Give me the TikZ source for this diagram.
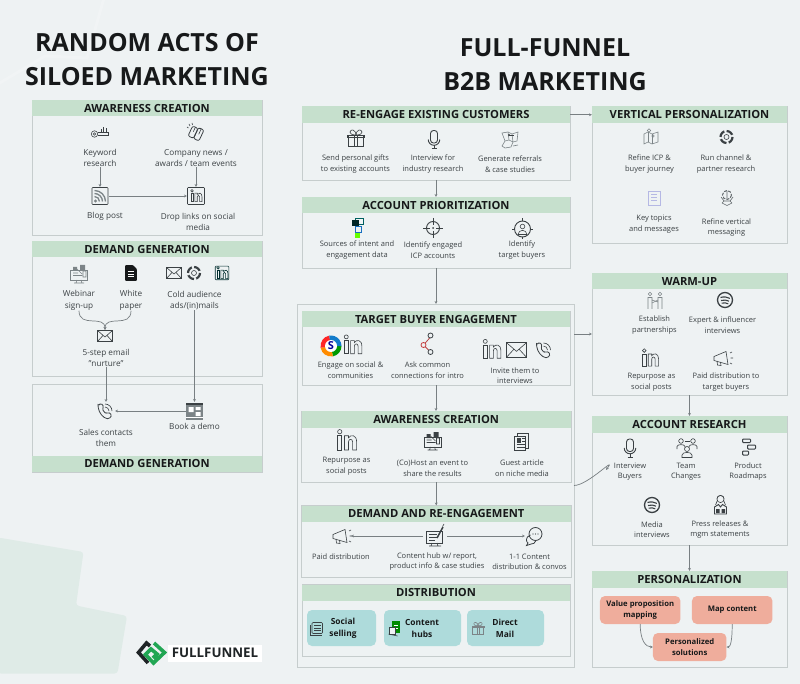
\documentclass[tikz,border=0pt]{standalone}
\usepackage{fontspec}
\setmainfont{Open Sans}
\usetikzlibrary{arrows.meta,calc}
\definecolor{bggray}{HTML}{EEF2F3}
\definecolor{softshape}{HTML}{DFEBE7}
\definecolor{softband}{HTML}{F1F4F5}
\definecolor{headgreen}{HTML}{C6E0CD}
\definecolor{rim}{HTML}{C6CDCD}
\definecolor{ink}{HTML}{3B4144}
\definecolor{blackink}{HTML}{17191A}
\definecolor{flowgray}{HTML}{787F82}
\definecolor{pillteal}{HTML}{AEDBDB}
\definecolor{pillred}{HTML}{EFAD9C}
\definecolor{logogreen}{HTML}{21A653}
\definecolor{logodark}{HTML}{1F2426}
\definecolor{icongray}{HTML}{7C8487}
\tikzset{
    bigtitle/.style={font=\fontsize{25}{34.5}\bfseries\selectfont,text=blackink,align=center},
    panel/.style={draw=rim,line width=.8pt,inner sep=0pt,outer sep=0pt,anchor=north west},
    head/.style={fill=headgreen,text=blackink,inner sep=0pt,outer sep=0pt,minimum height=16.5pt,font=\fontsize{11.2}{13}\bfseries\selectfont},
    lbl/.style={text=ink,align=center,inner sep=0pt,yshift=-.7pt,font=\fontsize{7.5}{10.5}\selectfont},
    lblbig/.style={text=ink,align=center,inner sep=0pt,yshift=-.6pt,font=\fontsize{8.2}{11.5}\selectfont},
    spot/.style={inner sep=0pt,outer sep=0pt,minimum size=18pt},
    pill/.style={rounded corners=5pt,inner sep=0pt,outer sep=0pt,text=blackink,align=center,font=\fontsize{8.4}{12}\bfseries\selectfont},
    redpill/.style={pill,fill=pillred,minimum height=28pt,font=\fontsize{7.7}{11}\bfseries\selectfont},
    flow/.style={draw=flowgray,line width=.7pt,-{Stealth[length=3pt,width=2.8pt]}},
    keyicon/.pic={
        \draw (-5.5,2) circle (3.2) (-5.5,2) circle (1.3);
        \draw (-2.4,.4)--(8,.4)--(8,3)--(-2.4,3);
        \draw (1,.4)--(1,-2.5) (3.5,.4)--(3.5,-5) (6,.4)--(6,-3.5);
    },
    clapicon/.pic={
        \draw[line width=.8pt,rounded corners=2pt,rotate=-25] (-6,-5) rectangle (0,6);
        \draw[line width=.8pt,rounded corners=2pt,rotate=-25] (0,-6) rectangle (6,6);
        \draw[rotate=-25] (-3,-5)--(-3,0) (3,-6)--(3,0);
        \draw (-7,-9)--(-6,-7) (-4,-10)--(-3.5,-8) (-9,-6)--(-7.5,-5);
    },
    rssicon/.pic={
        \draw[rounded corners=.8pt] (-8,-8.5) rectangle (8,8.5);
        \fill[icongray] (-4.5,5) circle (1.6);
        \foreach \r in {5,8,11}{\draw[icongray,line width=1.3pt] (-5.5,-\r+5.5) arc[start angle=-90,end angle=0,radius=\r];}
    },
    linicon/.pic={
        \draw (-5,-6.5) circle (1.6);
        \draw (-6.5,-3.5) rectangle (-3.5,7);
        \draw (-1.5,-3.5)--(1.5,-3.5)--(1.5,-2) .. controls (3,-4.5) and (7.5,-4.5) .. (7.5,1)--(7.5,7)--(4.5,7)--(4.5,1) .. controls (4.5,-1.5) and (1.5,-1.5) .. (1.5,1)--(1.5,7)--(-1.5,7)--cycle;
    },
    linbox/.pic={
        \draw[rounded corners=.8pt] (-8.5,-8.5) rectangle (8.5,8.5);
        \pic[scale=.8] at (0,0) {linicon};
    },
    mailicon/.pic={
        \draw (-7.5,-5.5) rectangle (7.5,5.5);
        \draw (-7.5,-5.5)--(0,1)--(7.5,-5.5) (-7.5,5.5)--(-2,-.5) (7.5,5.5)--(2,-.5);
    },
    phoneicon/.pic={
        \draw[line width=.8pt,rounded corners=1.5pt] (-8,-5)--(-5,-8)--(-2,-4)--(-4,-2)--(0,3)--(2,1)--(6,4)--(3,8) .. controls (-3,7) and (-7,2) .. cycle;
        \draw (-1,-7) arc[start angle=-90,end angle=0,radius=7];
        \draw (-1,-4) arc[start angle=-90,end angle=0,radius=4];
    },
    globeicon/.pic={
        \draw[line width=2.2pt,dash pattern=on 7pt off 2.4pt] (0,0) circle (6);
        \draw (0,0) circle (2.5);
    },
    papericon/.pic={
        \fill[rounded corners=.8pt] (-5.5,-7.5)--(2,-7.5)--(5.5,-4)--(5.5,7.5)--(-5.5,7.5)--cycle;
        \draw[white,line width=.8pt] (-3,-1.5)--(3,-1.5) (-3,1)--(3,1) (-3,3.5)--(3,3.5);
    },
    monitoricon/.pic={
        \draw (-8.5,-4) rectangle (8.5,6);
        \draw (-2,6)--(-3,9) (2,6)--(3,9) (-5,9)--(5,9);
        \fill (-6,-7) rectangle (-2,-3) (1,-9) rectangle (6,-4);
        \draw (-6,-1)--(-1,-1) (-6,1.5)--(3,1.5) (-2,-5)--(3,0) (4,-3) rectangle (7,3);
    },
    demoicon/.pic={
        \fill[icongray] (-8.5,-8.5) rectangle (8.5,8.5);
        \fill[ink] (-8.5,-8.5) rectangle (8.5,-6);
        \fill[white] (-6,-4) rectangle (-1,1) (1,-4) rectangle (6,-1) (1,1) rectangle (6,5);
        \draw[white] (-8.5,6)--(8.5,6);
    },
    gifticon/.pic={
        \draw (-7.5,-3) rectangle (7.5,8.5);
        \draw (-8.5,-3) rectangle (8.5,-.5);
        \draw (-1.5,-3)--(-1.5,8.5) (1.5,-3)--(1.5,8.5);
        \draw (0,-3) .. controls (-9,-3) and (-6,-9) .. (-3,-8) .. controls (-1,-7.5) and (0,-5) .. (0,-3);
        \draw (0,-3) .. controls (9,-3) and (6,-9) .. (3,-8) .. controls (1,-7.5) and (0,-5) .. (0,-3);
    },
    micicon/.pic={
        \draw[line width=.9pt,rounded corners=3pt] (-3.5,-9) rectangle (3.5,3.5);
        \draw[line width=.9pt] (-5.8,0) arc[start angle=180,end angle=0,radius=5.8];
        \draw[line width=.9pt] (0,5.8)--(0,9) (-2.5,9)--(2.5,9);
    },
    refericon/.pic={
        \draw[icongray] (-8,-7)--(-2,-8)--(2,-6)--(8,-8)--(7,1)--(3,2)--(1,7)--(-5,8)--(-8,6)--(-5,1)--cycle;
        \draw[icongray] (-2,-8)--(-1,0)--(3,2) (-5,1)--(-1,0) (2,-6)--(3,2);
        \fill[ink] (-1,-5) circle (1.2);
        \draw[ink] (-1,-5)--(4,-5);
        \draw[icongray] (3,6)--(8,5);
    },
    sourceicon/.pic={
        \draw[color=black!25!teal,fill=softband] (-2,-10) rectangle (6,-4);
        \fill[black!70!teal] (-5,-8) rectangle (2,-2);
        \draw[color=cyan!50!blue] (-2,-2) rectangle (4,4);
        \fill[green!60!yellow] (-2.5,5) rectangle (3,10);
    },
    targeticon/.pic={
        \draw[line width=.9pt] (0,0) circle (6.5);
        \draw[line width=.9pt] (0,-10)--(0,-3) (0,3)--(0,10) (-10,0)--(-3,0) (3,0)--(10,0);
        \fill (0,0) circle (1);
    },
    buyericon/.pic={
        \draw[line width=.9pt] (0,0) circle (8);
        \draw[line width=.9pt] (0,-10.5)--(0,-8) (0,8)--(0,10.5) (-10.5,0)--(-8,0) (8,0)--(10.5,0);
        \draw (0,-2.5) circle (2.3);
        \draw (-4.5,5.5) .. controls (-4,0) and (4,0) .. (4.5,5.5)--cycle;
    },
    slackicon/.pic={
        \fill[green!60!black] (0,0)--(10.5,0) arc[start angle=0,end angle=80,radius=10.5]--cycle;
        \fill[orange!90!yellow] (0,0)--(1.8,10.3) arc[start angle=80,end angle=170,radius=10.5]--cycle;
        \fill[red!80!pink] (0,0)--(-10.3,1.8) arc[start angle=170,end angle=260,radius=10.5]--cycle;
        \fill[cyan!60!blue] (0,0)--(-1.8,-10.3) arc[start angle=260,end angle=360,radius=10.5]--cycle;
        \fill[white] (0,0) circle (6);
        \node[text=blue!60!black,inner sep=0pt,font=\fontsize{11}{12}\bfseries\selectfont] (slackletter) at (0,0) {S};
    },
    shareicon/.pic={
        \draw[red!45!gray,line width=.8pt] (3,-7)--(-4,1)--(3,8);
        \draw[ink,fill=bggray,line width=.8pt] (3,-8.5) circle (2.5) (3,8) circle (2.5);
        \draw[red!55!gray,fill=bggray,line width=.8pt] (-4,1) circle (2.5);
    },
    guesticon/.pic={
        \draw (-4,-8) rectangle (7,7);
        \draw[fill=bggray] (-7,-5) rectangle (4,9);
        \fill (-5,-3) rectangle (-.5,1.5);
        \draw (.8,-2.5)--(3,-2.5) (.8,0)--(3,0) (-5,3.5)--(3,3.5) (-5,6)--(3,6);
    },
    megaicon/.pic={
        \draw (-9,-1.5)--(3,-6.5)--(5,6.5)--(-9,2.5)--cycle;
        \draw (-6,3)--(-5.5,7)--(-2,7.5)--(-2.5,4);
        \draw (7,-5)--(9,-6) (7.5,0)--(10,0) (7,5)--(9,6);
    },
    laptopicon/.pic={
        \draw[line width=.8pt] (-9,-5) rectangle (7,7);
        \draw (-3,7)--(-4,10) (2,7)--(3,10) (-6,10)--(6,10);
        \draw (-6,-2)--(2,-2) (-6,1)--(3,1) (-6,4)--(0,4);
        \draw[line width=1.5pt] (2,2)--(8,-9);
        \draw (7.5,-9.5)--(9,-12);
    },
    bubbleicon/.pic={
        \draw[line width=.8pt] (1.5,-2) circle (6.5);
        \draw[line width=.8pt] (-3.5,-1) .. controls (-9,1) and (-8,6) .. (-6,7)--(-7.5,9.5)--(-3,8) .. controls (-1,8.5) and (1,7) .. (2,4.5);
        \fill (-1,-2) circle (.7) (1.5,-2) circle (.7) (4,-2) circle (.7);
    },
    listbubble/.pic={
        \draw[rounded corners=1pt] (-4.5,-6) rectangle (6,5);
        \draw (-6,-3.5)--(-6,7)--(5,7);
        \draw (-2.5,-3)--(4,-3) (-2.5,-.5)--(4,-.5) (-2.5,2)--(4,2);
    },
    hubicon/.pic={
        \fill[green!55!black] (-3,-7) rectangle (5,5);
        \draw[white] (-1,-3)--(3,-3) (-1,0)--(3,0);
        \draw[fill=bggray] (-5,-1) rectangle (1,6);
        \draw (-6,6)--(3,8);
    },
    mapicon/.pic={
        \draw[icongray] (-7,-3)--(-3,-5)--(1,-3)--(7,-5)--(7,5)--(1,7)--(-3,5)--(-7,7)--cycle;
        \draw[icongray] (-3,-5)--(-3,5) (1,-3)--(1,7);
        \draw[icongray] (-2,-6.5) circle (1.7) (2,-1) circle (1.2);
    },
    docicon/.pic={
        \draw[color=blue!20!bggray!85!gray,line width=.8pt] (-6,-7) rectangle (6,7);
        \draw[color=blue!20!bggray!85!gray] (-3,-3.5)--(3,-3.5) (-3,-.5)--(3,-.5) (-3,2.5)--(3,2.5);
    },
    ribbonicon/.pic={
        \draw[line width=1pt,dash pattern=on 3pt off 1.4pt] (0,-3) circle (4.5);
        \draw (-6,-1)--(-3,3)--(3,3)--(6,-1) (-5,5)--(0,7.5)--(5,5) (-3,3)--(-5,5) (3,3)--(5,5) (0,-7)--(0,1);
    },
    partnericon/.pic={
        \draw[icongray] (-5,-7) circle (1.8) (5,-7) circle (1.8);
        \draw[icongray] (-7,8)--(-7,-3.5)--(-3,-3.5)--(-3,-1)--(3,1)--(3,-3.5)--(7,-3.5)--(7,8) (-3,-1)--(-3,8) (3,1)--(3,8);
        \draw[icongray] (-3,2)--(3,-1);
    },
    spotifyicon/.pic={
        \draw[line width=1.3pt] (0,0) circle (7.5);
        \draw[line width=1.1pt] (-4.5,-2.5) .. controls (-1,-3.5) and (2,-3.2) .. (4.8,-1.6);
        \draw[line width=1.1pt] (-4,.5) .. controls (-1,-.3) and (2,0) .. (4,1.2);
        \draw[line width=1.1pt] (-3.3,3.2) .. controls (-1,2.5) and (1.5,2.8) .. (3.2,3.8);
    },
    teamicon/.pic={
        \draw (-6,-7) circle (2.3) (6,-7) circle (2.3) (0,1) circle (2.5);
        \draw (-10,1)--(-10,-1.5) .. controls (-10,-4) and (-2,-4) .. (-2,-1.5)--(-2,-.5);
        \draw (10,1)--(10,-1.5) .. controls (10,-4) and (2,-4) .. (2,-1.5)--(2,-.5);
        \draw (-5,9.5)--(-5,7) .. controls (-4.5,3.5) and (4.5,3.5) .. (5,7)--(5,9.5)--cycle;
        \draw (-2.5,-7)--(2.5,-7);
    },
    roadicon/.pic={
        \draw[line width=1pt,rounded corners=.8pt] (-6,-8) rectangle (2,-4.5) (-1,-2) rectangle (7,2) (-6,4) rectangle (0,8);
    },
    personicon/.pic={
        \draw (0,-6) circle (3.6);
        \draw (-3.5,-6.5) .. controls (-3,-10.5) and (3,-10.5) .. (3.5,-6.5);
        \draw (-3,-5) .. controls (-4.5,-1) .. (-5,0) (3,-5) .. controls (4.5,-1) .. (5,0);
        \draw[line width=.9pt] (-6,9)--(-6,2)--(-2,-.5)--(0,2)--(2,-.5)--(6,2)--(6,9)--cycle;
        \fill (-4.5,4) rectangle (-1,8) (1,4) rectangle (4.5,8);
    },
}
\newcommand{\panelbox}[5]{
    \node[panel,minimum width=#3pt,minimum height=#4pt] (#1) at (#2) {};
    \node[head,minimum width=#3pt,anchor=north] (#1head) at (#1.north) {#5};
}
\begin{document}
\begin{tikzpicture}[x=1pt,y=-1pt,line width=.6pt,color=ink]
    \useasboundingbox (0,0) rectangle (800,684);
    \fill[bggray] (0,0) rectangle (800,684);
    \fill[softshape,rounded corners=3pt] (-2,537.5)--(83.5,552)--(76,605.5)--(127,616)--(117.5,673.5)--(-2,673.5)--cycle;
    \draw[softband,line width=3pt] (104,-2)--(87,58)--(45,56)--(-2,84);

    % titles
    \node[bigtitle] (lefttitle) at (147,59.5) {RANDOM ACTS OF\\SILOED MARKETING};
    \node[bigtitle] (righttitle) at (545,64.5) {FULL-FUNNEL\\B2B MARKETING};

    % left column
    \panelbox{awareA}{32,100}{230}{135}{AWARENESS CREATION}
    \panelbox{demandA}{32,241}{230}{135}{DEMAND GENERATION}
    \node[panel,minimum width=230pt,minimum height=88pt] (salesbox) at (32,384) {};
    \node[head,minimum width=230pt,anchor=south] (salesboxhead) at (salesbox.south) {DEMAND GENERATION};

    \pic at (100,132) {keyicon};
    \pic at (196,133) {clapicon};
    \node[lblbig] (keywordtxt) at (100,157.5) {Keyword\\research};
    \node[lblbig] (companytxt) at (196,157.5) {Company news /\\awards / team events};
    \node[spot] (blogicon) at (100,196) {};
    \node[spot] (linkicon) at (196,196) {};
    \pic at (blogicon) {rssicon};
    \pic at (linkicon) {linbox};
    \node[lblbig] (blogtxt) at (105,215.5) {Blog post};
    \node[lblbig] (droptxt) at (198,221.5) {Drop links on social\\media};
    \draw[flow] (keywordtxt.south) -- (blogicon.north);
    \draw[flow] (companytxt.south) -- (linkicon.north);
    \draw[flow] (blogicon.east) -- (linkicon.west);

    \pic[color=icongray] at (79,274) {monitoricon};
    \pic[scale=1.05,color=blackink] at (131,273) {papericon};
    \pic at (174,273) {mailicon};
    \pic at (194,273) {globeicon};
    \pic[color=black!65!teal,scale=.8] at (222,273) {linbox};
    \node[lblbig] (webinartxt) at (79,300) {Webinar\\sign-up};
    \node[lblbig] (papertxt) at (131,300) {White\\paper};
    \node[lblbig] (coldtxt) at (194.5,300) {Cold audience\\ads/(in)mails};
    \node[spot,minimum size=12pt] (nurtureicon) at (105,336) {};
    \pic at (nurtureicon) {mailicon};
    \node[lblbig] (nurturetxt) at (106,357.5) {5-step email\\"nurture"};
    \node[spot] (phoneicon) at (106,411) {};
    \node[spot] (demoicon) at (194.5,411) {};
    \pic at (phoneicon) {phoneicon};
    \pic at (demoicon) {demoicon};
    \node[lblbig] (salestxt) at (106,437.5) {Sales contacts\\them};
    \node[lblbig] (demotxt) at (194.5,425.5) {Book a demo};
    \draw[flow] (webinartxt.south) .. controls +(0,18) and +(0,-16) .. (nurtureicon.north);
    \draw[flow] (papertxt.south) .. controls +(0,18) and +(0,-16) .. (nurtureicon.north);
    \draw[flow] (nurturetxt.south) -- (phoneicon.north);
    \draw[flow] (coldtxt.south) -- (demoicon.north);
    \draw[flow] (demoicon.west) -- (phoneicon.east);

    % middle column
    \panelbox{reengage}{302,106.5}{268}{73.5}{RE-ENGAGE EXISTING CUSTOMERS}
    \pic at (356,138) {gifticon};
    \pic at (434,139.5) {micicon};
    \pic at (510,140) {refericon};
    \node[lbl] (gifttxt) at (355.5,163.5) {Send personal gifts\\to existing accounts};
    \node[lbl] (interviewtxt) at (433,163.5) {Interview for\\industry research};
    \node[lbl] (referraltxt) at (510,163.5) {Generate referrals\\\& case studies};

    \panelbox{prior}{302,197}{268}{71}{ACCOUNT PRIORITIZATION}
    \pic at (357,228) {sourceicon};
    \pic at (433,228) {targeticon};
    \pic at (522.5,229) {buyericon};
    \node[lbl] (sourcetxt) at (357,249.5) {Sources of intent and\\engagement data};
    \node[lbl] (engagedtxt) at (433,249.5) {Identify engaged\\ICP accounts};
    \node[lbl] (buyertxt) at (522,249.5) {Identify\\target buyers};

    \node[panel,minimum width=277pt,minimum height=363pt] (funnelbox) at (297,304) {};

    \panelbox{targetb}{302,311}{268}{74}{TARGET BUYER ENGAGEMENT}
    \pic at (331,346) {slackicon};
    \pic[scale=1.25] at (352.5,345) {linicon};
    \pic at (427.5,344) {shareicon};
    \pic[scale=1.25] at (491.5,349.5) {linicon};
    \pic[scale=1.35] at (516.5,350) {mailicon};
    \pic at (544.5,350) {phoneicon};
    \node[lbl] (socialtxt) at (350.5,369.5) {Engage on social \&\\communities};
    \node[lbl] (commontxt) at (427.5,369.5) {Ask common\\connections for intro};
    \node[lbl] (invitetxt) at (515,375) {Invite them to\\interviews};

    \panelbox{awareB}{301.5,411}{269.5}{71}{AWARENESS CREATION}
    \pic[scale=1.35] at (346.5,440.5) {linicon};
    \pic at (432.5,441) {monitoricon};
    \pic at (521.5,441) {guesticon};
    \node[lbl] (repurposetxt) at (346.5,465.5) {Repurpose as\\social posts};
    \node[lbl] (hosttxt) at (432.5,467.5) {(Co)Host an event to\\share the results};
    \node[lbl] (guesttxt) at (522,467.5) {Guest article\\on niche media};

    \panelbox{demandB}{301.5,505.5}{269.5}{72}{DEMAND AND RE-ENGAGEMENT}
    \node[spot] (paidicon) at (342,536) {};
    \node[spot,minimum width=24pt] (hubicon) at (435,536) {};
    \node[spot] (convoicon) at (534,536) {};
    \pic at (paidicon) {megaicon};
    \pic at (hubicon) {laptopicon};
    \pic at (convoicon) {bubbleicon};
    \node[lbl] (paidtxt) at (341,555.5) {Paid distribution};
    \node[lbl] (hubtxt) at (437,561) {Content hub w/ report,\\product info \& case studies};
    \node[lbl] (convotxt) at (529.5,561) {1-1 Content\\distribution \& convos};
    \draw[flow] (hubicon.west) -- (paidicon.east);
    \draw[flow] (hubicon.east) -- (convoicon.west);

    \panelbox{distrib}{302,584.5}{268}{71.5}{DISTRIBUTION}
    \node[pill,fill=pillteal,minimum width=69pt,minimum height=36pt] (socialpill) at (341.5,628) {};
    \node[pill,fill=pillteal,minimum width=77pt,minimum height=36pt] (contentpill) at (422.5,628) {};
    \node[pill,fill=pillteal,minimum width=77pt,minimum height=36pt] (directpill) at (505.5,628) {};
    \pic at (316.5,628.5) {listbubble};
    \pic at (394.5,628) {hubicon};
    \pic[scale=.7,color=icongray] at (478,628) {gifticon};
    \node[pill] (socialtxt2) at (343,628) {Social\\selling};
    \node[pill] (contenttxt) at (422,628) {Content\\hubs};
    \node[pill] (directtxt) at (505,628) {Direct\\Mail};

    \draw[flow] (reengage.south) -- (prior.north);
    \draw[flow] (prior.south) -- (funnelbox.north -| prior.south);
    \draw[flow] (targetb.south) -- (awareB.north -| targetb.south);
    \draw[flow] (awareB.south) -- (demandB.north -| awareB.south);

    % right column
    \panelbox{vertical}{592,106.5}{195}{136.5}{VERTICAL PERSONALIZATION}
    \pic at (651,137) {mapicon};
    \pic at (726.5,137) {globeicon};
    \pic at (654,198) {docicon};
    \pic[color=icongray!60!ink] at (727,198) {ribbonicon};
    \node[lbl] (icptxt) at (649.5,163.5) {Refine ICP \&\\buyer journey};
    \node[lbl] (channeltxt) at (726,163.5) {Run channel \&\\partner research};
    \node[lbl] (topicstxt) at (654,223.5) {Key topics\\and messages};
    \node[lbl] (messagingtxt) at (726.5,227) {Refine vertical\\messaging};

    \panelbox{warmup}{592,273}{195}{122}{WARM-UP}
    \pic at (655,301) {partnericon};
    \pic at (725,300) {spotifyicon};
    \pic[scale=1.15] at (650,358) {linicon};
    \pic at (723,358) {megaicon};
    \node[lbl] (partnertxt) at (654.5,324.5) {Establish\\partnerships};
    \node[lbl] (experttxt) at (722.5,324.5) {Expert \& influencer\\interviews};
    \node[lbl] (repurposetxt2) at (651.5,381.5) {Repurpose as\\social posts};
    \node[lbl] (paidtxt2) at (726,381.5) {Paid distribution to\\target buyers};

    \panelbox{research}{592,416}{195}{129}{ACCOUNT RESEARCH}
    \pic at (630,448) {micicon};
    \pic at (687,448) {teamicon};
    \pic at (748.5,447) {roadicon};
    \pic at (652,505) {spotifyicon};
    \pic at (720.5,505) {personicon};
    \node[lbl] (buyerstxt) at (630,471) {Interview\\Buyers};
    \node[lbl] (teamtxt) at (686,471) {Team\\Changes};
    \node[lbl] (roadtxt) at (748,471) {Product\\Roadmaps};
    \node[lbl] (mediatxt) at (652,529) {Media\\interviews};
    \node[lbl] (presstxt) at (720,529) {Press releases \&\\mgm statements};
    \coordinate (buyersin) at (606,470);

    \panelbox{personal}{592,571}{195}{96.5}{PERSONALIZATION}
    \node[redpill,minimum width=80.5pt] (valuebox) at (640.2,610) {Value proposition\\mapping};
    \node[redpill,minimum width=80.5pt] (mapbox) at (732.2,610) {Map content};
    \node[redpill,minimum width=73.5pt] (solutionbox) at (689.7,647) {Personalized\\solutions};
    \draw[flow] (valuebox.south) .. controls +(0,17) and +(-7,0) .. (solutionbox.west);
    \draw[flow] (mapbox.south) .. controls +(0,17) and +(4,0) .. (solutionbox.east);

    \draw[flow] (reengagehead.east) -- (verticalhead.west);
    \draw[flow] (warmup.west -| funnelbox.east) -- (warmup.west);
    \draw[flow] (warmup.south) -- (research.north);
    \draw[flow] (research.south) -- (personal.north);
    \draw[flow] (funnelbox.east) .. controls +(14,0) and +(12,-16) .. (buyersin);

    % logo
    \draw[logodark,line width=3.6pt] (150,646)--(146.5,643)--(138.5,652.5)--(148,663);
    \draw[logogreen,line width=3.6pt] (154,643)--(164.5,652.5)--(153.5,663)--(145.5,654.5)--(151,649)--(157,654)--(153,658);
    \node[fill=white,text=logodark,inner sep=0pt,minimum width=94pt,minimum height=17pt,font=\fontsize{13.3}{15}\bfseries\selectfont] (logotxt) at (215,653) {FULLFUNNEL};
\end{tikzpicture}
\end{document}
